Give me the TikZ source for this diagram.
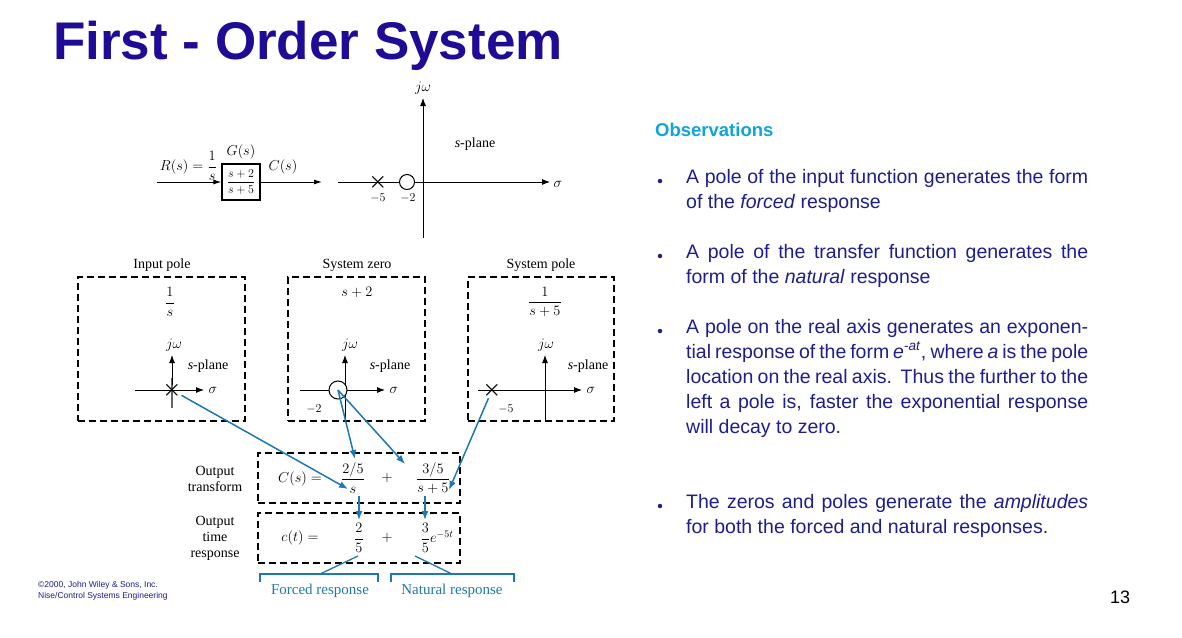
\documentclass[tikz,border=0pt]{standalone}
\usepackage{amsmath}
\usepackage{fontspec}
\setmainfont{Liberation Serif}
\newfontfamily\sansf{Liberation Sans}
\usetikzlibrary{arrows.meta}
\definecolor{titleblue}{HTML}{1E0B96}
\definecolor{obscyan}{HTML}{12A3DC}
\definecolor{bodyblue}{HTML}{1E1E8C}
\definecolor{arrblue}{HTML}{1F78B0}
\begin{document}
\begin{tikzpicture}[x=1pt,y=-1pt,
  lbl/.style={font=\fontsize{14}{16}\selectfont, inner sep=0pt},
  ax/.style={draw=gray!80!black, line width=1.2pt},
  axa/.style={ax, -{Latex[length=8pt,width=6pt]}, draw=black, line width=0.9pt},
  dbox/.style={draw, dashed, line width=1.6pt, dash pattern=on 7pt off 4pt},
  blu/.style={draw=arrblue, line width=1.5pt, -{Latex[length=9pt,width=7pt]}},
  bul/.style={font=\sansf\fontsize{19.5}{25}\selectfont, color=bodyblue, text width=402pt, align=justify, anchor=north west, inner sep=0pt},
  xm/.style={font=\fontsize{20}{20}\selectfont, inner sep=0pt}]
\useasboundingbox (0,0) rectangle (1182,637);
\fill[white] (0,0) rectangle (1182,637);
% title
\node[anchor=base west, font=\sansf\bfseries\fontsize{53}{53}\selectfont, color=titleblue, inner sep=0pt] (title) at (53,59) {First - Order System};
% block diagram
\node[lbl, anchor=east] (rs) at (217,166) {$R(s)=\dfrac{1}{s}$};
\node[draw, line width=1.2pt, minimum width=38pt, minimum height=36pt, inner sep=1pt] (g) at (241,182) {\fontsize{13}{14}\selectfont $\dfrac{s+2}{s+5}$};
\node[lbl] (gl) at (241,152) {$G(s)$};
\node[lbl] (cs) at (283,167) {$C(s)$};
\coordinate (in) at (157,182); \coordinate (out) at (322,182);
\draw[-{Latex[length=8pt,width=5pt]}, line width=1pt] (in) -- (g);
\draw[-{Latex[length=8pt,width=5pt]}, line width=1pt] (g) -- (out);
% top s-plane
\coordinate (h0) at (338,182); \coordinate (h1) at (550,182);
\coordinate (v0) at (423,238); \coordinate (v1) at (423,98);
\draw[axa] (h0) -- (h1); \draw[axa] (v0) -- (v1);
\node[lbl] (sig0) at (558,184) {$\sigma$};
\node[lbl] (jw0) at (423,88) {$j\omega$};
\node[xm] (px0) at (378,182) {$\boldsymbol{\times}$};
\node[draw, circle, fill=white, minimum size=15pt, inner sep=0pt, line width=1pt] (zo0) at (407,182) {};
\node[lbl, font=\fontsize{12}{12}\selectfont] (m5) at (378,198) {$-5$};
\node[lbl, font=\fontsize{12}{12}\selectfont] (m2) at (408,198) {$-2$};
\node[lbl] (sp0) at (475,144) {\textit{s}-plane};
% three dashed boxes
\node[dbox, minimum width=167pt, minimum height=144pt, inner sep=0pt] (b1) at (161.5,349) {};
\node[dbox, minimum width=137pt, minimum height=144pt, inner sep=0pt] (b2) at (356.5,349) {};
\node[dbox, minimum width=146pt, minimum height=144pt, inner sep=0pt] (b3) at (541,349) {};
\node[lbl] (t1) at (162,265) {Input pole};
\node[lbl] (t2) at (357,265) {System zero};
\node[lbl] (t3) at (541,265) {System pole};
\node[lbl] (f1) at (170,302) {$\dfrac{1}{s}$};
\node[lbl] (f2) at (357,292) {$s+2$};
\node[lbl] (f3) at (545,302) {$\dfrac{1}{s+5}$};
% box 1 axes
\coordinate (a1h0) at (135,390); \coordinate (a1h1) at (204,390);
\coordinate (a1v0) at (172,408); \coordinate (a1v1) at (172,355);
\draw[ax] (a1v0) -- (172,378); \draw[axa] (172,385) -- (a1v1);
\draw[axa] (a1h0) -- (a1h1);
\node[lbl] (jw1) at (174,345) {$j\omega$};
\node[lbl] (sig1) at (213,390) {$\sigma$};
\node[lbl] (sp1) at (208,366) {\textit{s}-plane};
\node[xm] (px1) at (172,390) {$\boldsymbol{\times}$};
% box 2 axes
\coordinate (a2h0) at (300,390); \coordinate (a2h1) at (385,390);
\coordinate (a2v0) at (345,420); \coordinate (a2v1) at (345,355);
\draw[axa] (a2v0) -- (a2v1);
\draw[axa] (a2h0) -- (a2h1);
\node[lbl] (jw2) at (350,345) {$j\omega$};
\node[lbl] (sig2) at (394,390) {$\sigma$};
\node[lbl] (sp2) at (390,366) {\textit{s}-plane};
\node[draw, circle, fill=white, minimum size=18pt, inner sep=0pt, line width=1pt] (zo2) at (338,390) {};
\node[lbl, font=\fontsize{12}{12}\selectfont] (m22) at (314,409) {$-2$};
% box 3 axes
\coordinate (a3h0) at (478,390); \coordinate (a3h1) at (582,390);
\coordinate (a3v0) at (545,420); \coordinate (a3v1) at (545,355);
\draw[axa] (a3v0) -- (a3v1);
\draw[axa] (a3h0) -- (a3h1);
\node[lbl] (jw3) at (546,345) {$j\omega$};
\node[lbl] (sig3) at (591,390) {$\sigma$};
\node[lbl] (sp3) at (588,366) {\textit{s}-plane};
\node[xm] (px3) at (492,390) {$\boldsymbol{\times}$};
\node[lbl, font=\fontsize{12}{12}\selectfont] (m53) at (506,409) {$-5$};
% output boxes
\node[dbox, minimum width=202pt, minimum height=50pt, inner sep=0pt] (ob1) at (359,478) {};
\node[dbox, minimum width=202pt, minimum height=50pt, inner sep=0pt] (ob2) at (359,538) {};
\node[lbl, align=center] (ot) at (215,479) {Output\\transform};
\node[lbl, align=center] (otr) at (215,538) {Output\\time\\response};
\node[lbl] (cseq) at (300,479) {$C(s)=$};
\node[lbl] (fa) at (353,478) {$\dfrac{2/5}{s}$};
\node[lbl] (p1) at (387,478) {$+$};
\node[lbl] (fb) at (433,478) {$\dfrac{3/5}{s+5}$};
\node[lbl] (cteq) at (300,538) {$c(t)=$};
\node[lbl] (fc) at (359,538) {$\dfrac{2}{5}$};
\node[lbl] (p2) at (387,538) {$+$};
\node[lbl] (fd) at (437,538) {$\dfrac{3}{5}e^{-5t}$};
% blue arrows
\coordinate (e1) at (348,489); \coordinate (e2) at (355,459); \coordinate (e3) at (405,464);
\coordinate (e4) at (449,490);
\draw[blu] (px1) -- (e1);
\draw[blu] (zo2.center) -- (e2);
\draw[blu] (zo2.center) -- (e3);
\draw[blu] (px3) -- (e4);
\coordinate (d1a) at (359,496); \coordinate (d1b) at (359,520);
\coordinate (d2a) at (425,496); \coordinate (d2b) at (425,520);
\draw[blu] (d1a) -- (d1b); \draw[blu] (d2a) -- (d2b);
% brackets
\draw[arrblue, line width=1.3pt] (260,582) -- (260,574) -- (378,574) -- (378,582);
\draw[arrblue, line width=1.3pt] (391,582) -- (391,574) -- (514,574) -- (514,582);
\coordinate (k1a) at (358,556); \coordinate (k1b) at (320,574);
\coordinate (k2a) at (415,556); \coordinate (k2b) at (452,574);
\draw[arrblue, line width=1.3pt] (k1a) -- (k1b);
\draw[arrblue, line width=1.3pt] (k2a) -- (k2b);
\node[lbl, color=arrblue, font=\fontsize{15}{15}\selectfont] (forced) at (320,591) {Forced response};
\node[lbl, color=arrblue, font=\fontsize{15}{15}\selectfont] (natural) at (452,591) {Natural response};
% copyright
\node[anchor=north west, align=left, inner sep=0pt, font=\sansf\fontsize{8.5}{11}\selectfont, color=bodyblue] (copy) at (38,581) {©2000, John Wiley \& Sons, Inc.\\Nise/Control Systems Engineering};
\node[font=\sansf\fontsize{18}{18}\selectfont, inner sep=0pt] (pg) at (1120,597) {13};
% observations
\node[anchor=base west, inner sep=0pt, font=\sansf\bfseries\fontsize{18.5}{18.5}\selectfont, color=obscyan] (obs) at (655,136) {Observations};
\foreach \y/\nm in {181/bu1, 256/bu2, 331/bu3, 506/bu4}
  \node[circle, fill=bodyblue, minimum size=4.5pt, inner sep=0pt] (\nm) at (660,\y) {};
\node[bul] (o1) at (686,169) {A pole of the input function generates the form of the \textit{forced} response};
\node[bul] (o2) at (686,244) {A pole of the transfer function generates the form of the \textit{natural} response};
\node[bul] (o3) at (686,319) {A pole on the real axis generates an exponential response of the form \textit{e}\textsuperscript{-\textit{at}}, where \textit{a} is the pole location on the real axis.\ \ Thus the further to the left a pole is, faster the exponential response will decay to zero.};
\node[bul] (o4) at (686,494) {The zeros and poles generate the \textit{amplitudes} for both the forced and natural responses.};
\end{tikzpicture}
\end{document}
